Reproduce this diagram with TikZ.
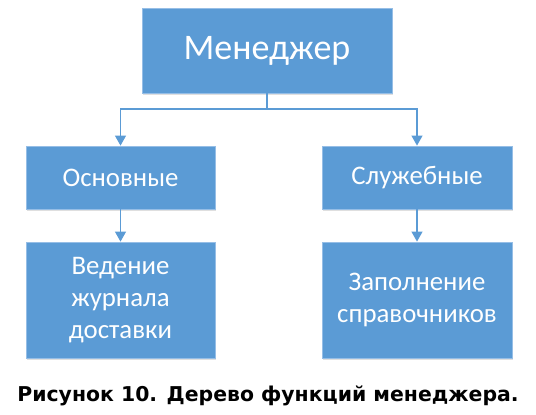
\documentclass[tikz,border=0pt]{standalone}
\usepackage{fontspec}
\setmainfont{Carlito}
\newfontfamily\capfont{DejaVu Sans}
\usetikzlibrary{arrows.meta,shadows}
\definecolor{boxblue}{RGB}{91,155,213}
\definecolor{lineblue}{RGB}{91,155,213}
\tikzset{
  fbox/.style={rectangle, fill=boxblue, draw={rgb,255:red,150;green,190;blue,230}, line width=0.8pt,
    text=white, inner sep=0pt, align=center,
    drop shadow={shadow xshift=1pt, shadow yshift=-1.5pt, opacity=0.25, fill=gray}},
  midtext/.style={font=\fontsize{26.8}{32}\selectfont},
  conn/.style={draw=lineblue, line width=1.1pt, -{Triangle[length=10pt,width=11pt]}},
}
\begin{document}
\begin{tikzpicture}[x=1pt,y=-1pt]
\useasboundingbox (0,0) rectangle (536,415);
\node[fbox, minimum width=250pt, minimum height=85pt, font=\fontsize{36}{40}\selectfont] (top) at (267,50.5) {Менеджер};
\node[fbox, minimum width=189pt, minimum height=63pt, midtext] (l1) at (120.5,177.5) {Основные};
\node[fbox, minimum width=190pt, minimum height=63pt, midtext] (r1) at (417,177.5) {Служебные};
\node[fbox, minimum width=189pt, minimum height=116pt, midtext] (l2) at (120.5,300) {Ведение\\журнала\\доставки};
\node[fbox, minimum width=190pt, minimum height=116pt, midtext] (r2) at (417,300) {Заполнение\\справочников};
\coordinate (j) at (267,109);
\draw[conn] (top.south) -- (j) -| (l1.north);
\draw[conn] (j) -| (r1.north);
\draw[conn] (l1.south) -- (l2.north);
\draw[conn] (r1.south) -- (r2.north);
\node[font=\capfont\bfseries\fontsize{20.4}{24}\selectfont, anchor=base, inner sep=0pt] (cap) at (268,401) {Рисунок 10. Дерево функций менеджера.};
\end{tikzpicture}
\end{document}
